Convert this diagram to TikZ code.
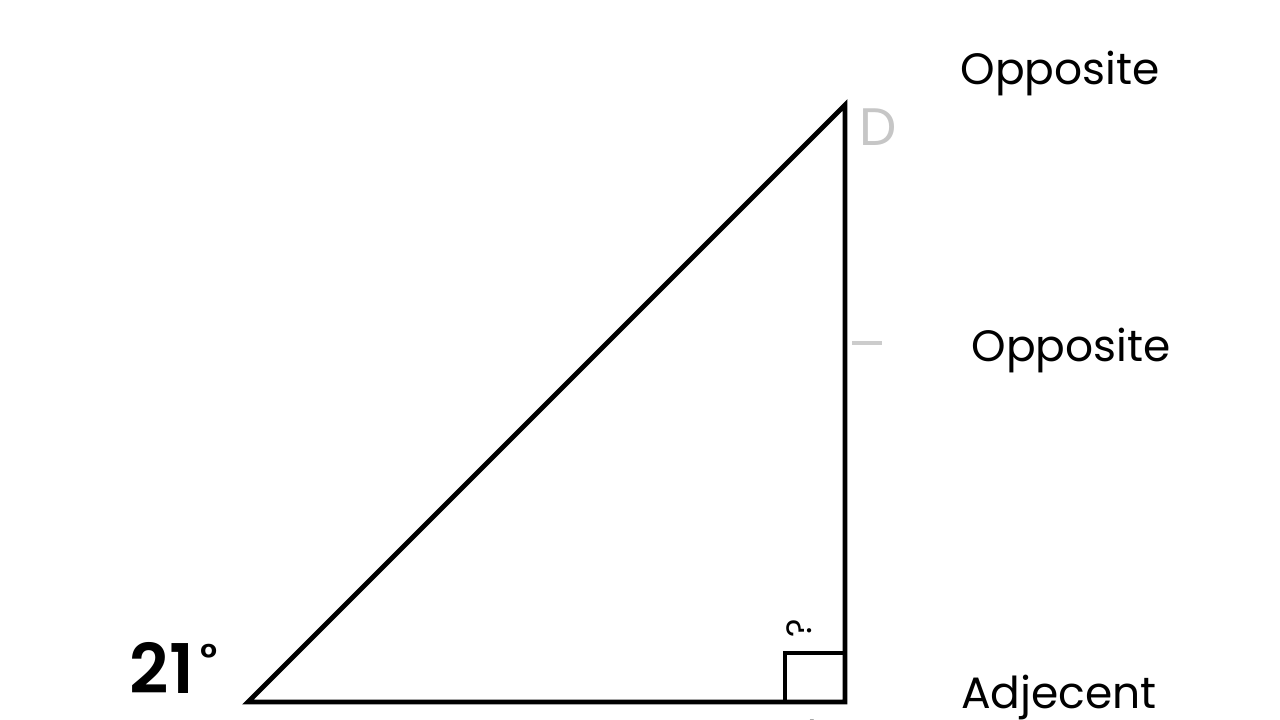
\documentclass[tikz,border=0pt]{standalone}
\usepackage{fontspec}
\setmainfont{Poppins}[BoldFont={Poppins SemiBold}]
\begin{document}
\begin{tikzpicture}
\useasboundingbox (0,0) rectangle (12.8,7.2);
%\draw[step=0.5cm,gray,very thin] (0,0) grid (12.8,7.2);
\coordinate (A) at (2.48,0.18);
\coordinate (C) at (8.45,0.18);
\coordinate (D) at (8.45,6.15);
\draw[line width=1.4pt, line join=miter] (A) -- (C) -- (D) -- cycle;
\draw[line width=1.4pt] (7.85,0.18) -- (7.85,0.67) -- (8.45,0.67);
\draw[gray!40, line width=0.9pt] (8.52,3.77) coordinate (t1) -- (8.82,3.77) coordinate (t2);
\node[] (lD) at (8.78,5.93) {\fontsize{15}{18}\selectfont\color{gray!45}D};
\node[] (lA) at (8.12,-0.12) {\fontsize{10}{12}\selectfont A};
\node[rotate=90, inner sep=0pt] (lq) at (7.99,0.92) {\fontsize{10}{11}\selectfont ?};
\node[] (ang) at (1.74,0.52) {\fontsize{19.5}{22}\selectfont\bfseries 21\hspace{0.1em}\raisebox{0.32em}{\fontsize{11}{11}\selectfont °}};
\node[] (op1) at (10.6,6.46) {\fontsize{12.5}{15}\selectfont Opposite};
\node[] (op2) at (10.71,3.69) {\fontsize{12.5}{15}\selectfont Opposite};
\node[inner sep=0pt] (adj) at (10.59,0.22) {\fontsize{12.5}{15}\selectfont Adjecent};
\end{tikzpicture}
\end{document}
